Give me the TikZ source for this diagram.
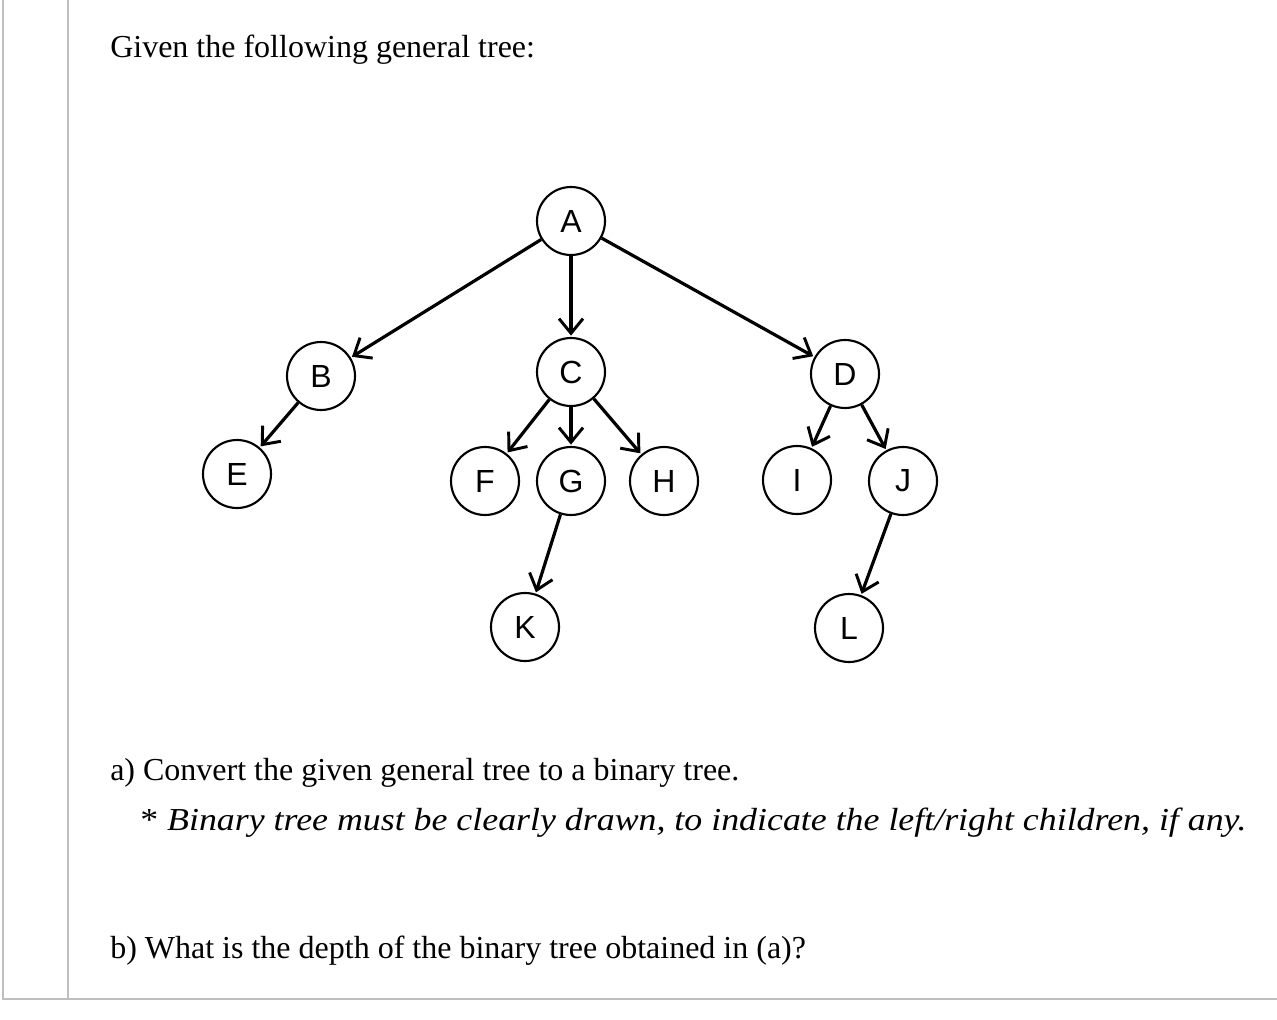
\documentclass[tikz,border=0pt]{standalone}
\usepackage{fontspec}
\setmainfont{Liberation Serif}
\newfontfamily\nodefont{Liberation Sans}
\usetikzlibrary{arrows.meta}
\begin{document}
\begin{tikzpicture}[x=0.75pt,y=-0.75pt,
 tn/.style={circle,draw,line width=1.6pt,minimum size=51pt,inner sep=0pt,font=\nodefont\fontsize{24}{24}\selectfont},
 ed/.style={line width=2.4pt,-{Straight Barb[length=11pt,width=18pt,line width=2.2pt]},shorten >=1pt},
 frame/.style={draw=black!25,line width=1.8pt},
 txt/.style={anchor=base west,inner sep=0pt,font=\fontsize{24}{28}\selectfont}]
\useasboundingbox (0,0) rectangle (1277,1020);
\draw[frame] (3,0) -- (3,999) -- (1277,999);
\draw[frame] (68,0) -- (68,999);
\node[txt] (t1) at (110,58) {Given the following general tree:};
\node[txt] (t2) at (110,780) {a) Convert the given general tree to a binary tree.};
\node[txt,xscale=1.12] (t3) at (140,830) {* \textit{Binary tree must be clearly drawn, to indicate the left/right children, if any.}};
\node[txt] (t4) at (110,958) {b) What is the depth of the binary tree obtained in (a)?};
\node[tn] (A) at (571,221) {A};
\node[tn] (B) at (321,376) {B};
\node[tn] (C) at (571,372) {C};
\node[tn] (D) at (845,374) {D};
\node[tn] (E) at (237,474) {E};
\node[tn] (F) at (485,481) {F};
\node[tn] (G) at (571,481) {G};
\node[tn] (H) at (664,481) {H};
\node[tn] (I) at (797,480) {I};
\node[tn] (J) at (903,481) {J};
\node[tn] (K) at (525,627) {K};
\node[tn] (L) at (849,628) {L};
\foreach \a/\b in {A/B,A/C,A/D,B/E,C/F,C/G,C/H,D/I,D/J,G/K,J/L}
  \draw[ed] (\a) -- (\b);
\end{tikzpicture}
\end{document}
